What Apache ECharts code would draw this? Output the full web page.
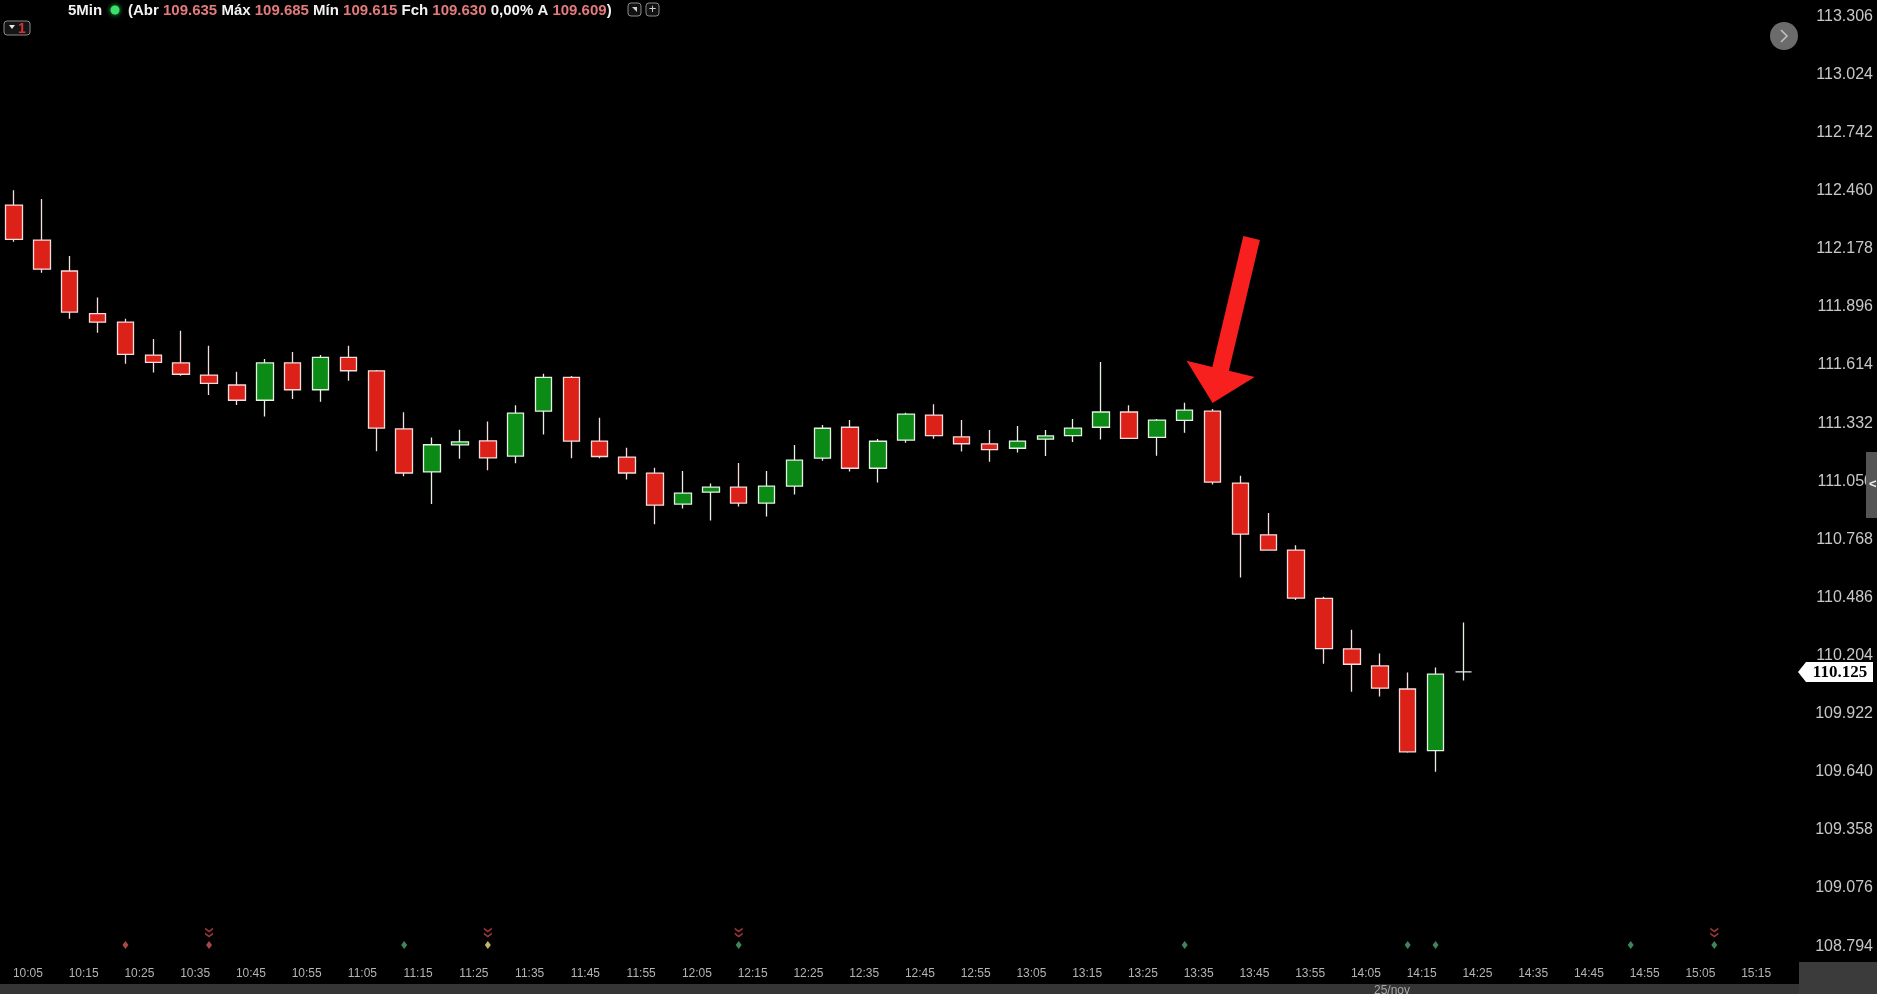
<!DOCTYPE html>
<html>
<head>
<meta charset="utf-8">
<script src="https://cdn.jsdelivr.net/npm/echarts@6/dist/echarts.min.js"></script>
<style>
html,body{margin:0;padding:0;background:#000;overflow:hidden;}
#c{width:1877px;height:994px;}
</style>
</head>
<body>
<div id="c"></div>
<script>
// ---- categories (5-minute bars) ----
const times = ['10:05','10:10','10:15','10:20','10:25','10:30','10:35','10:40','10:45','10:50','10:55',
  '11:00','11:05','11:10','11:15','11:20','11:25','11:30','11:35','11:40','11:45','11:50','11:55',
  '12:00','12:05','12:10','12:15','12:20','12:25','12:30','12:35','12:40','12:45','12:50','12:55',
  '13:00','13:05','13:10','13:15','13:20','13:25','13:30','13:35','13:40','13:45','13:50','13:55',
  '14:00','14:05','14:10','14:15','14:20','14:25','14:30','14:35','14:40','14:45','14:50','14:55',
  '15:00','15:05','15:10','15:15','15:20'];

// ---- OHLC values ----
const opens  = [112.390,112.220,112.070,111.863,111.822,111.662,111.624,111.565,111.517,111.443,
  111.624,111.494,111.651,111.585,111.304,111.095,111.226,111.246,111.172,111.390,
  111.554,111.245,111.167,111.089,110.939,110.997,111.021,110.944,111.026,111.162,
  111.312,111.113,111.249,111.371,111.265,111.231,111.210,111.254,111.271,111.312,
  111.386,111.263,111.345,111.390,111.041,110.790,110.716,110.482,110.237,110.154,
  110.042,109.743,110.125];
const closes = [112.224,112.079,111.871,111.822,111.666,111.627,111.569,111.525,111.443,111.624,
  111.494,111.651,111.586,111.308,111.090,111.227,111.241,111.163,111.380,111.554,
  111.245,111.170,111.090,110.934,110.992,111.021,110.944,111.026,111.152,111.307,
  111.113,111.244,111.376,111.271,111.232,111.203,111.245,111.270,111.308,111.386,
  111.258,111.347,111.395,111.046,110.793,110.716,110.483,110.238,110.162,110.046,
  109.737,110.114,110.125];
const lows   = [112.212,112.062,111.838,111.771,111.620,111.577,111.562,111.469,111.420,111.364,
  111.449,111.436,111.538,111.195,111.074,110.940,111.159,111.103,111.137,111.277,
  111.161,111.161,111.059,110.841,110.918,110.860,110.928,110.879,110.986,111.150,
  111.097,111.044,111.237,111.256,111.194,111.145,111.189,111.173,111.240,111.252,
  111.256,111.174,111.285,111.034,110.583,110.713,110.474,110.165,110.029,110.006,
  109.732,109.640,110.083];
const highs  = [112.462,112.419,112.143,111.941,111.838,111.740,111.780,111.707,111.581,111.643,
  111.677,111.662,111.707,111.590,111.385,111.262,111.300,111.340,111.419,111.572,
  111.561,111.358,111.212,111.115,111.100,111.039,111.139,111.100,111.226,111.323,
  111.347,111.255,111.382,111.423,111.347,111.299,111.318,111.299,111.352,111.629,
  111.419,111.352,111.431,111.400,111.077,110.896,110.740,110.489,110.330,110.214,
  110.122,110.146,110.364];

// ---- price-axis tick labels ----
const yTicks = [108.794,109.076,109.358,109.640,109.922,110.204,110.486,110.768,111.050,
  111.332,111.614,111.896,112.178,112.460,112.742,113.024,113.306];

// ---- signal markers under the bars ----
const signalTimes = ['10:25','10:40','11:15','11:30','12:15','13:35','14:15','14:20','14:55','15:10'];
const signalKinds = ['sell','sell','buy','neutral','buy','buy','buy','buy','buy','buy'];
const chevronTimes = ['10:40','11:30','12:15','15:10'];

// ---- header values ----
const header = {tf:'5Min', abr:'109.635', max:'109.685', min:'109.615', fch:'109.630', chg:'0,00%', a:'109.609'};
const lastPrice = 110.125;
const dateLabel = '25/nov';
// annotation arrow: [category index, price]
const arrowFrom = [44.4, 112.230];
const arrowTo   = [43.0, 111.430];

const SIGNAL_LEVEL = 108.800, CHEVRON_LEVEL = 108.860;
const kindColor = {sell:'#cf5a5a', buy:'#4fa673', neutral:'#f2e27e'};

const chart = echarts.init(document.getElementById('c'), null, {renderer:'canvas'});

const option = {
  backgroundColor:'#000000',
  animation:false,
  grid:{left:0, right:93, top:0, height:960},
  xAxis:{
    type:'category', data:times, boundaryGap:true,
    axisLine:{show:false}, axisTick:{show:false}, splitLine:{show:false},
    axisLabel:{interval:1, color:'#b4b4b4', fontSize:12, fontFamily:'Liberation Sans', margin:8, padding:[0,0,0,28]}
  },
  yAxis:{
    type:'value', position:'right', min:108.727, max:113.385, scale:true,
    axisLine:{show:false}, axisTick:{show:false}, splitLine:{show:false},
    axisLabel:{customValues:yTicks, formatter:v=>Number(v).toFixed(3), align:'right', margin:89,
      color:'#c8c8c8', fontSize:16, fontFamily:'Liberation Sans'}
  },
  series:[
    {
      type:'candlestick', barWidth:17,
      data: opens.map((o,i)=>[o, closes[i], lows[i], highs[i]]),
      itemStyle:{color:'#0b8a15', color0:'#dc2218', borderColor:'#e4f2e4', borderColor0:'#f6dcdc', borderWidth:1.3}
    },
    {
      type:'scatter', symbol:'diamond', symbolSize:[6,8], z:3,
      data: signalTimes.map((t,i)=>({value:[t, SIGNAL_LEVEL], itemStyle:{color:kindColor[signalKinds[i]]}}))
    },
    {
      type:'scatter', z:3,
      symbol:'path://M0,0 L5,3 L10,0 L10,2 L5,5 L0,2 Z M0,5 L5,8 L10,5 L10,7 L5,10 L0,7 Z',
      symbolSize:[8,10], itemStyle:{color:'#c24646'},
      data: chevronTimes.map(t=>[t, CHEVRON_LEVEL])
    }
  ]
};
chart.setOption(option);

function xAt(ci){
  const a = Math.floor(ci), f = ci - a;
  const pa = chart.convertToPixel({xAxisIndex:0}, a);
  const pb = chart.convertToPixel({xAxisIndex:0}, a+1);
  return pa + (pb - pa) * f;
}
function yAt(p){ return chart.convertToPixel({yAxisIndex:0}, p); }

const T = [xAt(arrowFrom[0]), yAt(arrowFrom[1])];
const P = [xAt(arrowTo[0]), yAt(arrowTo[1])];
const dx = P[0]-T[0], dy = P[1]-T[1], len = Math.hypot(dx,dy);
const u = [dx/len, dy/len], n = [-u[1], u[0]];
const hl = 35, hw = 35, sw = 8.5;
const B = [P[0]-u[0]*hl, P[1]-u[1]*hl];
const arrowPts = [
  [T[0]+n[0]*sw, T[1]+n[1]*sw],
  [B[0]+n[0]*sw, B[1]+n[1]*sw],
  [B[0]+n[0]*hw, B[1]+n[1]*hw],
  P,
  [B[0]-n[0]*hw, B[1]-n[1]*hw],
  [B[0]-n[0]*sw, B[1]-n[1]*sw],
  [T[0]-n[0]*sw, T[1]-n[1]*sw]
];
const ty = yAt(lastPrice);

const wTxt = {fill:'#f2f2f2', font:'bold 15px "Liberation Sans"'};
const pTxt = {fill:'#e37a7c', font:'bold 15px "Liberation Sans"'};

chart.setOption({
  graphic:[
    // red annotation arrow
    {type:'polygon', z:50, shape:{points:arrowPts}, style:{fill:'#f81f1f'}},
    // header
    {type:'text', z:50, style:{x:68, y:11, text:header.tf, textVerticalAlign:'middle', verticalAlign:'middle', fill:'#f2f2f2', font:'bold 15px "Liberation Sans"'}},
    {type:'circle', z:50, shape:{cx:115, cy:10, r:4.5}, style:{fill:'#3be06a', shadowBlur:5, shadowColor:'#2bd25a'}},
    {type:'text', z:50, style:{x:128, y:11, textVerticalAlign:'middle', verticalAlign:'middle',
      text:'{w|(Abr }{p|'+header.abr+'}{w| Máx }{p|'+header.max+'}{w| Mín }{p|'+header.min+'}{w| Fch }{p|'+header.fch+'}{w| '+header.chg+' A }{p|'+header.a+'}{w|)}',
      rich:{w:wTxt, p:pTxt}}},
    {type:'rect', z:50, shape:{x:628, y:3, width:13, height:13, r:3}, style:{fill:'#111', stroke:'#8a8a8a', lineWidth:1}},
    {type:'polygon', z:51, shape:{points:[[632,7],[637,7],[637,12]]}, style:{fill:'#cfcfcf'}},
    {type:'rect', z:50, shape:{x:646, y:3, width:13, height:13, r:3}, style:{fill:'#111', stroke:'#8a8a8a', lineWidth:1}},
    {type:'text', z:51, style:{x:652.5, y:9.5, text:'+', textAlign:'center', align:'center', textVerticalAlign:'middle', verticalAlign:'middle', fill:'#cfcfcf', font:'13px "Liberation Sans"'}},
    // top-left indicator box
    {type:'rect', z:50, shape:{x:4, y:21, width:26, height:14, r:3}, style:{fill:'#151515', stroke:'#8a8a8a', lineWidth:1}},
    {type:'polygon', z:51, shape:{points:[[9,25],[15,25],[12,29]]}, style:{fill:'#e8e8e8'}},
    {type:'text', z:51, style:{x:18, y:29, text:'1', textVerticalAlign:'middle', verticalAlign:'middle', fill:'#d83232', font:'bold 14px "Liberation Sans"'}},
    // round button top-right
    {type:'circle', z:50, shape:{cx:1784, cy:36, r:14}, style:{fill:'#6b6b6b'}},
    {type:'polyline', z:51, shape:{points:[[1781,30],[1787,36],[1781,42]]}, style:{stroke:'#c4c4c4', lineWidth:1.5, fill:null}},
    // right side tab
    {type:'rect', z:60, shape:{x:1866, y:452, width:11, height:66}, style:{fill:'#555555'}},
    {type:'text', z:61, style:{x:1869, y:484, text:'<', textVerticalAlign:'middle', verticalAlign:'middle', fill:'#f0f0f0', font:'bold 13px "Liberation Sans"'}},
    // last price tag
    {type:'polygon', z:60, shape:{points:[[1798,ty],[1806,ty-10],[1873,ty-10],[1873,ty+10],[1806,ty+10]]}, style:{fill:'#ffffff'}},
    {type:'text', z:61, style:{x:1840, y:ty+1, text:lastPrice.toFixed(3), textAlign:'center', align:'center', textVerticalAlign:'middle', verticalAlign:'middle', fill:'#000', font:'bold 17px "Liberation Serif"'}},
    // bottom bars
    {type:'rect', z:40, shape:{x:0, y:984, width:1799, height:10}, style:{fill:'#353535'}},
    {type:'rect', z:40, shape:{x:1799, y:962, width:78, height:32}, style:{fill:'#3b3b3b'}},
    {type:'text', z:41, style:{x:1392, y:985, text:dateLabel, textAlign:'center', align:'center', fill:'#a8a8a8', font:'12px "Liberation Sans"'}}
  ]
});
</script>
</body>
</html>
